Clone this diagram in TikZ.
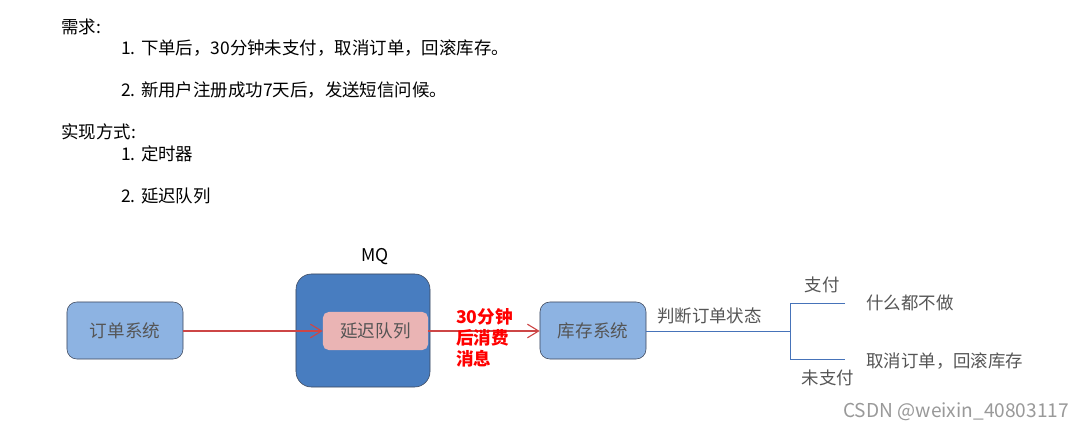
\documentclass[tikz,border=0pt]{standalone}
\usepackage{fontspec}
\setmainfont{Noto Sans CJK SC}
\usetikzlibrary{arrows.meta,positioning}
\definecolor{boxblue}{RGB}{141,179,226}
\definecolor{mqblue}{RGB}{72,125,192}
\definecolor{qpink}{RGB}{234,180,180}
\definecolor{edge}{RGB}{60,70,90}
\definecolor{ink}{RGB}{85,85,85}
\definecolor{flowred}{RGB}{205,70,70}
\definecolor{branch}{RGB}{70,115,185}
\tikzset{
  >={Straight Barb[length=2.8mm,width=3.4mm]},
  sysbox/.style={draw=edge,fill=boxblue,rounded corners=7pt,
    minimum width=2.9cm,minimum height=1.425cm,text=ink,
    font=\fontsize{12.5}{15}\selectfont},
  mqbox/.style={draw=edge,fill=mqblue,rounded corners=11pt,
    minimum width=3.35cm,minimum height=2.825cm},
  queue/.style={fill=qpink,rounded corners=4pt,minimum width=2.625cm,
    minimum height=0.95cm,text=ink,font=\fontsize{12.5}{15}\selectfont},
  flow/.style={->,draw=flowred,thick},
  txt/.style={anchor=west,font=\fontsize{12.4}{15}\selectfont,inner sep=0pt},
  lbl/.style={text=ink,font=\fontsize{12.4}{15}\selectfont},
}
\begin{document}
\begin{tikzpicture}[x=0.025cm,y=-0.025cm]
  \useasboundingbox (0,0) rectangle (1089,431);
  % requirements
  \node[txt] (req) at (61,27) {需求:};
  \node[txt] (req1) at (121,48) {1. 下单后，30分钟未支付，取消订单，回滚库存。};
  \node[txt] (req2) at (121,90) {2. 新用户注册成功7天后，发送短信问候。};
  \node[txt] (way) at (61,132) {实现方式:};
  \node[txt] (way1) at (121,154) {1. 定时器};
  \node[txt] (way2) at (121,196) {2. 延迟队列};

  % flow
  \node[sysbox] (order) at (125,330.5) {订单系统};
  \node[mqbox] (mq) at (363,330.5) {};
  \node[font=\fontsize{12.5}{15}\selectfont] (mqlbl) at (375,257) {MQ};
  \node[queue] (delay) at (375.5,331) {延迟队列};
  \node[sysbox,minimum width=2.65cm] (stock) at (593,330.5) {库存系统};
  \draw[flow] (order.east |- delay.west) -- (delay.west);
  \draw[flow] (delay.east) -- (stock.west |- delay.east);
  \node[text=red,font=\fontsize{12.5}{15}\selectfont\bfseries,align=left,
    anchor=north west,inner sep=0pt] (late) at (456,308) {30分钟\\后消费\\消息};

  % branch
  \coordinate (fork) at (790,331);
  \coordinate (paid) at (845,303);
  \coordinate (unpaid) at (845,359);
  \draw[branch,semithick] (stock.east |- fork) -- node[lbl,above=1pt,pos=0.44] (judge) {判断订单状态} (fork);
  \draw[branch,semithick] (paid) -- (paid -| fork) -- (unpaid -| fork) -- (unpaid);
  \node[lbl] (paylbl) at (822,285) {支付};
  \node[lbl] (unpaylbl) at (828,378) {未支付};
  \node[lbl,anchor=west,inner sep=0pt] (none) at (866,303) {什么都不做};
  \node[lbl,anchor=west,inner sep=0pt] (cancel) at (866,361) {取消订单，回滚库存};

  \node[text=black!40,anchor=west,inner sep=0pt,font=\fontsize{13.6}{15}\selectfont] (mark) at (843,412) {CSDN @weixin\_40803117};
\end{tikzpicture}
\end{document}
